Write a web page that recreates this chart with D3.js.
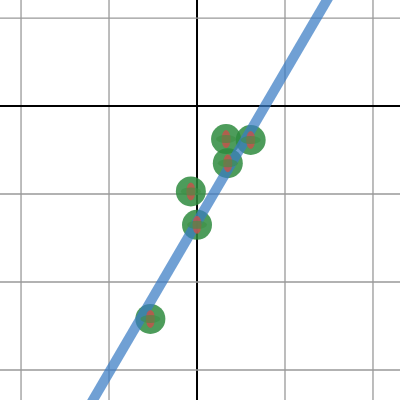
<!DOCTYPE html><html><head><script src="https://d3js.org/d3.v7.min.js"></script>
<style>body{margin:0}</style></head><body><svg id="c" width="400" height="400"></svg><script>
const xs=[0.33,0.61,0.35,-0.07,0,-0.53];
const ys=[-0.375,-0.386,-0.65,-0.97,-1.35,-2.42];
const slope=1.709, intercept=-1.32;
const gridX=[-2,-1,0,1,2], gridY=[1,0,-1,-2,-3];
const x=d3.scaleLinear().domain([-2.239,2.307]).range([0,400]);
const y=d3.scaleLinear().domain([1.205,-3.341]).range([0,400]);
const s=d3.select("#c");
s.append("rect").attr("width",400).attr("height",400).attr("fill","#fff");
s.selectAll(".gx").data(gridX).join("line").attr("x1",d=>x(d)).attr("x2",d=>x(d)).attr("y1",0).attr("y2",400).attr("stroke",d=>d===0?"#000":"#999").attr("stroke-width",d=>d===0?2:1.3);
s.selectAll(".gy").data(gridY).join("line").attr("y1",d=>y(d)).attr("y2",d=>y(d)).attr("x1",0).attr("x2",400).attr("stroke",d=>d===0?"#000":"#999").attr("stroke-width",d=>d===0?2:1.3);
const pts=xs.map((v,i)=>[v,ys[i]]);
s.selectAll(".p").data(pts).join("circle").attr("cx",d=>x(d[0])).attr("cy",d=>y(d[1])).attr("r",15).attr("fill","#2e8b3e").attr("opacity",0.85);
const lx=[-2.239,2.307];
s.append("line").attr("x1",x(lx[0])).attr("y1",y(slope*lx[0]+intercept)).attr("x2",x(lx[1])).attr("y2",y(slope*lx[1]+intercept)).attr("stroke","#3a7cc4").attr("stroke-width",10).attr("opacity",0.72);
s.selectAll(".r").data(pts).join("ellipse").attr("cx",d=>x(d[0])).attr("cy",d=>y(d[1])).attr("rx",4.5).attr("ry",9).attr("fill","#c9504a").attr("opacity",0.8);
s.selectAll(".g").data(pts).join("ellipse").attr("cx",d=>x(d[0])).attr("cy",d=>y(d[1])).attr("rx",10).attr("ry",4).attr("fill","#3d8f45").attr("opacity",0.6);
</script></body></html>
